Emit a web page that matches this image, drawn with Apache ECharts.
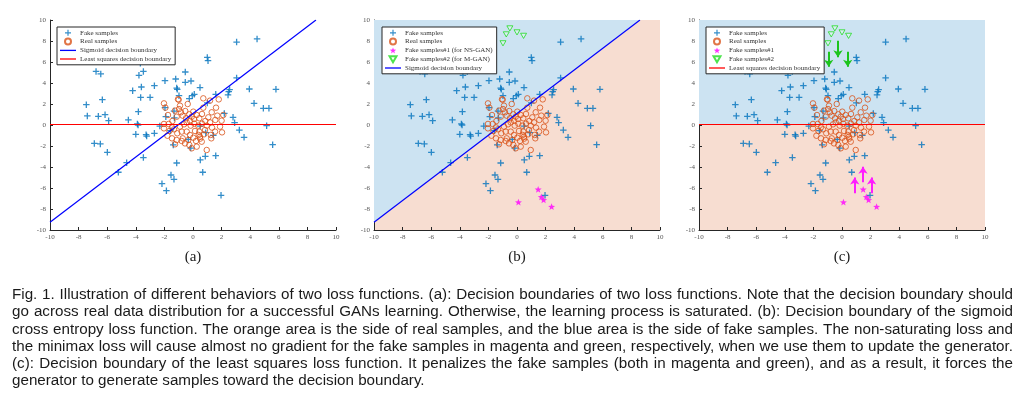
<!DOCTYPE html>
<html>
<head>
<meta charset="utf-8">
<script src="https://cdn.jsdelivr.net/npm/echarts@6/dist/echarts.min.js"></script>
<style>
  html, body { margin: 0; padding: 0; background: #fff; }
  #main { width: 1024px; height: 398px; }
</style>
</head>
<body>
<div id="main"></div>
<script>
// values (data units)
var fakeSamples = [
  [3.05, 7.9], [4.48, 8.2], [1.0, 6.44], [1.05, 6.13], [-6.78, 5.1], [-6.45, 4.86],
  [-3.68, 5.87], [-3.47, 5.1], [-3.78, 4.73], [-0.54, 5.05], [-1.21, 4.38], [-1.96, 4.22],
  [-0.54, 4.06], [-0.14, 4.19], [0.49, 3.56], [3.05, 4.48], [-2.7, 3.75], [-3.61, 3.62],
  [-4.22, 3.27], [-1.14, 3.52], [-1.1, 3.4], [-3.66, 2.63], [-3.0, 2.63], [-6.34, 2.41],
  [-7.46, 1.94], [-7.39, 0.86], [-6.62, 0.83], [-6.15, 0.98], [-5.9, 0.41], [-4.52, 0.48],
  [-3.82, 1.27], [-3.89, 0.1], [-3.84, 0.0], [-4.0, -0.89], [-3.28, -0.92], [-3.24, -1.05],
  [-2.7, -0.79], [-6.9, -1.75], [-6.48, -1.8], [-5.99, -2.6], [-3.47, -3.1], [-4.64, -3.59],
  [-5.22, -4.5], [-1.54, -4.76], [-1.33, -5.17], [-2.17, -5.59], [-1.86, -6.25], [-1.14, -3.62],
  [0.51, -3.33], [0.86, -2.98], [0.68, -4.5], [1.59, -2.92], [1.96, -6.7], [-1.9, 0.79],
  [-1.96, 1.65], [-1.33, 1.33], [-1.3, 0.67], [-0.98, 2.79], [-0.26, 2.51], [-0.05, 2.79],
  [0.09, 2.92], [1.59, 2.92], [2.45, 2.86], [2.5, 3.17], [2.56, 3.37], [3.94, 3.43],
  [4.27, 2.06], [5.8, 3.4], [4.92, 1.59], [5.31, 1.59], [5.15, -0.06], [5.57, -1.87],
  [3.57, -1.17], [3.24, -0.48], [2.8, 0.73], [2.91, 0.22], [2.19, 1.1], [1.42, -0.98],
  [0.89, -0.73], [-0.33, -1.37], [-1.38, -1.9], [0.5, -0.1], [-0.16, -2.2], [-1.58, -0.54],
  [-2.32, -0.1], [1.0, 2.1]
];
var realSamples = [
  [-2.03, 2.06], [-1.0, 2.41], [-0.37, 2.0], [1.19, 2.32], [1.8, 2.44], [-1.93, 1.65],
  [-1.26, 1.37], [-0.98, 1.52], [-0.84, 1.21], [-0.72, 0.89], [-1.14, 0.79], [-1.75, 0.95],
  [0.02, 1.27], [0.26, 0.95], [0.72, 1.65], [0.63, 1.05], [0.44, 0.64], [0.07, 0.57],
  [-0.21, 0.41], [1.31, 1.21], [1.7, 0.89], [2.12, 0.95], [2.0, 0.41], [1.56, 0.48],
  [1.07, 0.73], [1.19, 0.25], [-2.03, 0.1], [-1.7, 0.1], [-1.47, -0.22], [-1.33, -0.41],
  [-1.65, -0.57], [-2.03, -0.32], [-0.91, -0.16], [-0.63, 0.06], [-0.44, 0.25], [-0.16, -0.06],
  [0.09, 0.13], [0.37, -0.06], [0.63, 0.13], [0.96, -0.06], [1.33, -0.25], [1.89, -0.16],
  [-1.79, -1.02], [-1.47, -1.27], [-1.14, -1.43], [-0.72, -1.27], [-0.33, -1.43], [0.02, -1.21],
  [0.49, -1.11], [0.77, -0.89], [1.24, -0.95], [2.03, -0.7], [-1.26, -1.84], [-0.79, -1.52],
  [-0.26, -1.9], [-0.09, -2.22], [0.26, -2.06], [0.96, -2.38], [-0.44, -0.63], [0.14, -0.57],
  [0.44, -0.63], [0.84, -0.48], [-0.79, -0.63], [-0.09, 0.79], [-0.49, 0.64], [-1.44, 0.38],
  [1.61, 1.65], [0.72, 2.54], [0.4, -0.95], [-0.21, -0.95], [-1.1, -0.79], [1.54, -0.63],
  [0.86, 0.38], [-0.26, 1.02], [-0.54, 1.33], [-0.91, 1.84], [1.28, -1.27], [-0.56, -1.75],
  [0.21, -1.52], [0.61, -1.59], [-1.05, 2.45], [0.5, -1.3]
];
var fakeSamples1 = [[1.48, -6.13], [1.7, -6.85], [1.86, -7.14], [0.1, -7.35], [2.42, -7.78]];
var fakeSamples2 = [[-0.5, 9.2], [-0.75, 8.63], [0.0, 8.82], [0.46, 8.49], [-0.98, 7.78]];
var sigmoidBoundary = [[-10, -9.27], [8.6, 10]];
var lsqBoundary = [[-10, 0.05], [10, 0.05]];
// [x, yFrom, yTo]
var greenArrows = [[-0.93, 6.98, 5.55], [-0.28, 8.03, 6.45], [0.4, 6.98, 5.55]];
var magentaArrows = [[0.89, -6.5, -4.99], [1.47, -5.46, -3.97], [2.07, -6.5, -4.99]];
var axisRange = [-10, 10];
var tickStep = 2;
var panelLabels = ['(a)', '(b)', '(c)'];
var captionLines = [
  'Fig. 1.  Illustration of different behaviors of two loss functions. (a): Decision boundaries of two loss functions. Note that the decision boundary should',
  'go across real data distribution for a successful GANs learning. Otherwise, the learning process is saturated. (b): Decision boundary of the sigmoid',
  'cross entropy loss function. The orange area is the side of real samples, and the blue area is the side of fake samples. The non-saturating loss and',
  'the minimax loss will cause almost no gradient for the fake samples in magenta and green, respectively, when we use them to update the generator.',
  '(c): Decision boundary of the least squares loss function. It penalizes the fake samples (both in magenta and green), and as a result, it forces the',
  'generator to generate samples toward the decision boundary.'
];

var BLUE = '#0072BD', ORANGE = '#D95319';
var blueSide = '#cce3f2', orangeSide = '#f7ddd1';
var plusPath = 'path://M4,0H6V4H10V6H6V10H4V6H0V4H4Z';
var starPath = 'path://M5,0.2L6.234,3.501L9.755,3.655L6.997,5.849L7.939,9.245L5,7.3L2.061,9.245L3.003,5.849L0.245,3.655L3.766,3.501Z';
var triPath = 'path://M0,0L10,0L5,8.66Z';
var dashIcon = 'path://M0,0H16V1.3H0Z';

var chart = echarts.init(document.getElementById('main'));

var gridLefts = [50, 374, 699];
var grids = gridLefts.map(function (l, i) {
  return {
    left: l, top: 20, width: 286, height: 210,
    show: i > 0, backgroundColor: orangeSide, borderWidth: 0
  };
});

function axis(i) {
  return {
    type: 'value', gridIndex: i, min: axisRange[0], max: axisRange[1], interval: tickStep,
    axisLine: { show: true, onZero: false, lineStyle: { color: '#262626', width: 1 } },
    axisTick: { show: true, inside: true, length: 3, lineStyle: { color: '#262626' } },
    splitLine: { show: false },
    axisLabel: { fontSize: 7, color: '#555', fontFamily: 'Liberation Serif', margin: 4 }
  };
}

function fake(i) {
  return {
    name: 'Fake samples', type: 'scatter', xAxisIndex: i, yAxisIndex: i,
    data: fakeSamples, symbol: plusPath, symbolSize: 6.5,
    itemStyle: { color: BLUE }, z: 3
  };
}
function real(i) {
  return {
    name: 'Real samples', type: 'scatter', xAxisIndex: i, yAxisIndex: i,
    data: realSamples, symbol: 'circle', symbolSize: 5.5,
    itemStyle: { color: 'rgba(0,0,0,0)', borderColor: ORANGE, borderWidth: 1 }, z: 3
  };
}
function boundary(name, i, data, color) {
  return {
    name: name, type: 'line', xAxisIndex: i, yAxisIndex: i, data: data,
    symbol: 'none', lineStyle: { color: color, width: 1.2 }, itemStyle: { color: color }, z: 4
  };
}
function side(i, data) {
  return {
    name: 'side', type: 'line', xAxisIndex: i, yAxisIndex: i, data: data, silent: true,
    symbol: 'none', lineStyle: { width: 0, opacity: 0 },
    areaStyle: { color: blueSide, opacity: 1, origin: 'end' }, z: 1
  };
}
function arrows(list, color) {
  return {
    silent: true, symbol: ['none', 'arrow'], symbolSize: [7, 7],
    label: { show: false },
    lineStyle: { color: color, width: 2, type: 'solid' },
    data: list.map(function (a) {
      return [{ coord: [a[0], a[1]] }, { coord: [a[0], a[2]] }];
    })
  };
}
function stars(name, i, withArrows) {
  var s = {
    name: name, type: 'scatter', xAxisIndex: i, yAxisIndex: i, data: fakeSamples1,
    symbol: starPath, symbolSize: 7, symbolKeepAspect: true,
    itemStyle: { color: '#ff00ff' }, z: 5
  };
  if (withArrows) s.markLine = arrows(magentaArrows, '#ff1cff');
  return s;
}
function triangles(name, i, withArrows) {
  var s = {
    name: name, type: 'scatter', xAxisIndex: i, yAxisIndex: i, data: fakeSamples2,
    symbol: triPath, symbolSize: 6, symbolKeepAspect: true,
    itemStyle: { color: 'rgba(255,255,255,0.4)', borderColor: '#22dd22', borderWidth: 1 }, z: 5
  };
  if (withArrows) s.markLine = arrows(greenArrows, '#1dc41d');
  return s;
}

function lineItem(name, color) {
  return { name: name, icon: dashIcon, itemStyle: { color: color, borderWidth: 0 } };
}
function legend(left, names) {
  return {
    orient: 'vertical', left: left, top: 27, selectedMode: false,
    backgroundColor: '#fff', borderColor: '#262626', borderWidth: 1,
    padding: [2, 4, 2, 3], itemGap: 1, itemWidth: 16, itemHeight: 6,
    textStyle: { fontSize: 7, fontFamily: 'Liberation Serif', color: '#333', lineHeight: 7.6, padding: [0, 0, 0, -1] },
    data: names
  };
}

// caption, justified word by word
var captionFont = '15.2px "Liberation Sans", Arial, sans-serif';
var ctx = document.createElement('canvas').getContext('2d');
ctx.font = captionFont;
var graphics = [];
var captionLeft = 12, captionRight = 1013;
var baselines = [300, 317.2, 334.4, 351.6, 368.8, 386];
captionLines.forEach(function (line, li) {
  var words = line.split(' ').filter(function (w) { return w.length; });
  var widths = words.map(function (w) { return ctx.measureText(w).width; });
  var total = widths.reduce(function (a, b) { return a + b; }, 0);
  var last = li === captionLines.length - 1;
  var gap = last ? ctx.measureText(' ').width : (captionRight - captionLeft - total) / (words.length - 1);
  var x = captionLeft;
  words.forEach(function (w, wi) {
    graphics.push({
      type: 'text', x: x, y: baselines[li] - 5,
      style: { text: w, font: captionFont, fill: '#1a1a1a', verticalAlign: 'middle', align: 'left' }
    });
    x += widths[wi] + gap;
  });
});
panelLabels.forEach(function (t, i) {
  graphics.push({
    type: 'text', x: gridLefts[i] + 143, y: 257.5,
    style: { text: t, font: '15px "Liberation Serif", serif', fill: '#1a1a1a', verticalAlign: 'middle', align: 'center' }
  });
});

var option = {
  animation: false,
  grid: grids,
  xAxis: [axis(0), axis(1), axis(2)],
  yAxis: [axis(0), axis(1), axis(2)],
  legend: [
    legend(57, ['Fake samples', 'Real samples',
      lineItem('Sigmoid decision boundary', '#0000ff'),
      lineItem('Least squares decision boundary', '#ff0000')]),
    legend(382, ['Fake samples', 'Real samples', 'Fake samples#1 (for NS-GAN)', 'Fake samples#2 (for M-GAN)',
      lineItem('Sigmoid decision boundary', '#0000ff')]),
    legend(706, ['Fake samples', 'Real samples', 'Fake samples#1', 'Fake samples#2',
      lineItem('Least squares decision boundary', '#ff0000')])
  ],
  series: [
    fake(0), real(0),
    boundary('Sigmoid decision boundary', 0, sigmoidBoundary, '#0000ff'),
    boundary('Least squares decision boundary', 0, lsqBoundary, '#ff0000'),
    side(1, sigmoidBoundary), fake(1), real(1),
    stars('Fake samples#1 (for NS-GAN)', 1, false),
    triangles('Fake samples#2 (for M-GAN)', 1, false),
    boundary('Sigmoid decision boundary', 1, sigmoidBoundary, '#0000ff'),
    side(2, lsqBoundary), fake(2), real(2),
    stars('Fake samples#1', 2, true),
    triangles('Fake samples#2', 2, true),
    boundary('Least squares decision boundary', 2, lsqBoundary, '#ff0000')
  ],
  graphic: graphics
};

chart.setOption(option);
</script>
</body>
</html>
